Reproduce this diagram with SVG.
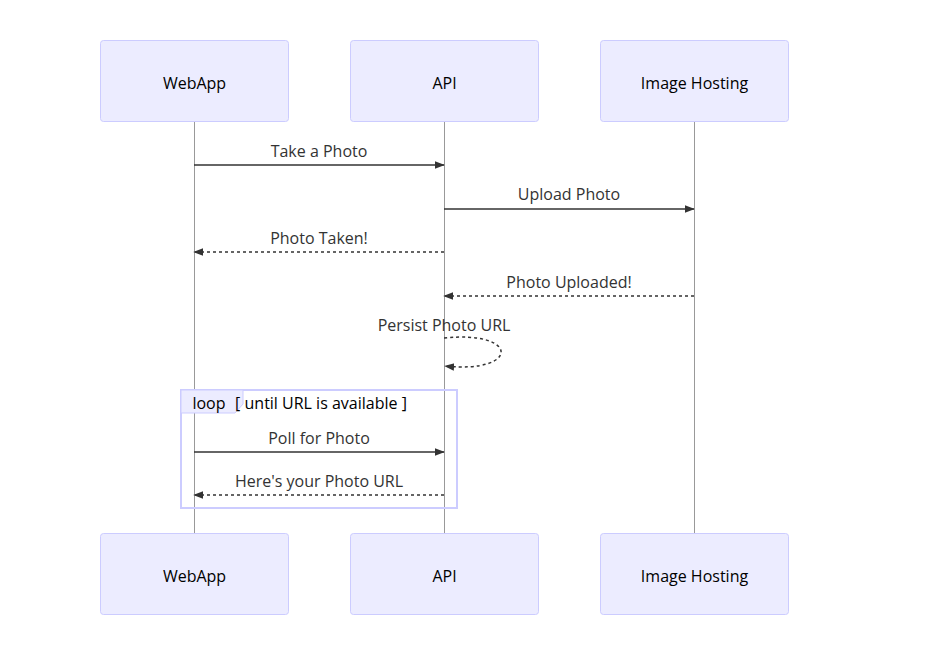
<svg xmlns="http://www.w3.org/2000/svg" width="949" height="652" viewBox="0 0 949 652">
<style>
.actor rect{fill:#ECECFF;stroke:#CCCCFF;stroke-width:1}
.actor text{font-family:"Open Sans","Noto Sans",sans-serif;font-size:16px;fill:#000;text-anchor:middle;dominant-baseline:central}
.life{stroke:#999;stroke-width:1}
.msg{stroke:#333;stroke-width:1.5;fill:none}
.dash{stroke-dasharray:3,3}
.mt{font-family:"Open Sans","Noto Sans",sans-serif;font-size:16px;fill:#333;text-anchor:middle;dominant-baseline:central}
.lt{font-family:"Open Sans","Noto Sans",sans-serif;font-size:16px;fill:#000;text-anchor:middle;dominant-baseline:central}
</style>
<defs>
<marker id="arrow" viewBox="0 0 12 12" refX="11" refY="6" markerWidth="10" markerHeight="10" markerUnits="userSpaceOnUse" orient="auto-start-reverse">
<path d="M0,1.5 L12,6 L0,10.5 z" fill="#333"/>
</marker>
</defs>
<rect width="949" height="652" fill="#fff"/>
<g id="lifelines">
<line class="life" x1="194.5" y1="121" x2="194.5" y2="533"/>
<line class="life" x1="444.5" y1="121" x2="444.5" y2="533"/>
<line class="life" x1="694.5" y1="121" x2="694.5" y2="533"/>
</g>
<g id="webapp-top" class="actor"><rect x="100.5" y="40.5" width="188" height="81" rx="3"/><text x="194.5" y="83">WebApp</text></g>
<g id="api-top" class="actor"><rect x="350.5" y="40.5" width="188" height="81" rx="3"/><text x="444.5" y="83">API</text></g>
<g id="hosting-top" class="actor"><rect x="600.5" y="40.5" width="188" height="81" rx="3"/><text x="694.5" y="83">Image Hosting</text></g>
<g id="webapp-bottom" class="actor"><rect x="100.5" y="533.5" width="188" height="81" rx="3"/><text x="194.5" y="576">WebApp</text></g>
<g id="api-bottom" class="actor"><rect x="350.5" y="533.5" width="188" height="81" rx="3"/><text x="444.5" y="576">API</text></g>
<g id="hosting-bottom" class="actor"><rect x="600.5" y="533.5" width="188" height="81" rx="3"/><text x="694.5" y="576">Image Hosting</text></g>
<g id="loop">
<rect x="181" y="390" width="276" height="118" fill="none" stroke="#CCCCFF" stroke-width="2"/>
<polygon points="181,390 243,390 243,404 235,413 181,413" fill="#ECECFF" stroke="#CCCCFF" stroke-width="1"/>
<text class="lt" x="209" y="403">loop</text>
<text class="lt" x="321" y="403">[ until URL is available ]</text>
</g>
<g id="connectors">
<line class="msg" x1="194" y1="165" x2="444" y2="165" marker-end="url(#arrow)"/>
<text class="mt" x="319" y="151">Take a Photo</text>
<line class="msg" x1="444" y1="209" x2="694" y2="209" marker-end="url(#arrow)"/>
<text class="mt" x="569" y="194">Upload Photo</text>
<line class="msg dash" x1="444" y1="252" x2="194" y2="252" marker-end="url(#arrow)"/>
<text class="mt" x="319" y="238">Photo Taken!</text>
<line class="msg dash" x1="694" y1="296" x2="444" y2="296" marker-end="url(#arrow)"/>
<text class="mt" x="569" y="282">Photo Uploaded!</text>
<path class="msg dash" d="M444,338 C520,330 520,374 445,366" marker-end="url(#arrow)"/>
<text class="mt" x="444" y="325">Persist Photo URL</text>
<line class="msg" x1="194" y1="452" x2="444" y2="452" marker-end="url(#arrow)"/>
<text class="mt" x="319" y="438">Poll for Photo</text>
<line class="msg dash" x1="444" y1="495" x2="194" y2="495" marker-end="url(#arrow)"/>
<text class="mt" x="319" y="481">Here's your Photo URL</text>
</g>
</svg>
